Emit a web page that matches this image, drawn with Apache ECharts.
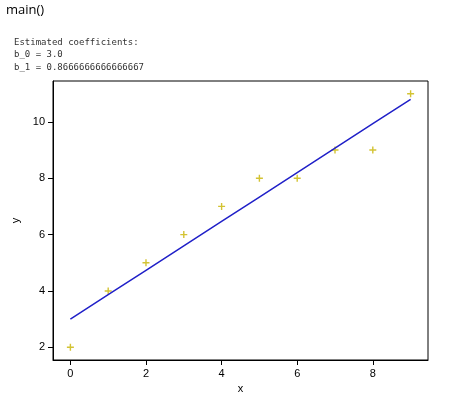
<!DOCTYPE html>
<html>
<head>
<meta charset="utf-8">
<script src="https://cdn.jsdelivr.net/npm/echarts@6/dist/echarts.min.js"></script>
<style>
body { margin: 0; background: #fff; }
#main { width: 474px; height: 403px; }
</style>
</head>
<body>
<div id="main"></div>
<script>
var xValues = [0, 1, 2, 3, 4, 5, 6, 7, 8, 9];
var yValues = [2, 4, 5, 6, 7, 8, 8, 9, 9, 11];
var xTicks = [0, 2, 4, 6, 8];
var yTicks = [2, 4, 6, 8, 10];
var b0 = 3.0;
var b1 = 0.8666666666666667;

var points = [];
var fitLine = [];
for (var i = 0; i < xValues.length; i++) {
    points.push([xValues[i], yValues[i]]);
    fitLine.push([xValues[i], b0 + b1 * xValues[i]]);
}

var mono = 'DejaVu Sans Mono';
var myChart = echarts.init(document.getElementById('main'));
myChart.setOption({
    animation: false,
    graphic: [
        { type: 'text', left: 6, top: 4, style: { text: 'main()', font: '13px "Open Sans"', fill: '#000' } },
        { type: 'text', left: 14, top: 36, style: { text: 'Estimated coefficients:\nb_0 = 3.0\nb_1 = ' + b1, font: '9px ' + mono, lineHeight: 12.5, fill: '#333' } },
        // box around axes
        { type: 'rect', shape: { x: 53, y: 81, width: 375, height: 279 }, style: { fill: 'none', stroke: '#000', lineWidth: 1 }, silent: true }
    ],
    grid: { left: 53, right: 46, top: 81, bottom: 43 },
    xAxis: {
        type: 'value', min: -0.46, max: 9.46,
        name: 'x', nameLocation: 'middle', nameGap: 22,
        nameTextStyle: { color: '#000', fontSize: 11 },
        splitLine: { show: false },
        axisLine: { onZero: false, lineStyle: { color: '#000' } },
        axisTick: { lineStyle: { color: '#000' }, customValues: xTicks },
        axisLabel: { color: '#000', fontSize: 11, customValues: xTicks },
        axisPointer: { show: false }
    },
    yAxis: {
        type: 'value', min: 1.55, max: 11.45,
        name: 'y', nameLocation: 'middle', nameGap: 30,
        nameTextStyle: { color: '#000', fontSize: 11 },
        splitLine: { show: false },
        axisLine: { show: true, onZero: false, lineStyle: { color: '#000' } },
        axisTick: { show: true, lineStyle: { color: '#000' }, customValues: yTicks },
        axisLabel: { color: '#000', fontSize: 11, customValues: yTicks }
    },
    series: [
        {
            type: 'scatter', data: points, symbol: 'path://M4,0H6V4H10V6H6V10H4V6H0V4H4Z',
            symbolSize: 7, itemStyle: { color: '#c8b400' }
        },
        {
            type: 'line', data: fitLine, showSymbol: false,
            lineStyle: { color: '#2020c8', width: 1.5 }
        }
    ]
});
</script>
</body>
</html>
